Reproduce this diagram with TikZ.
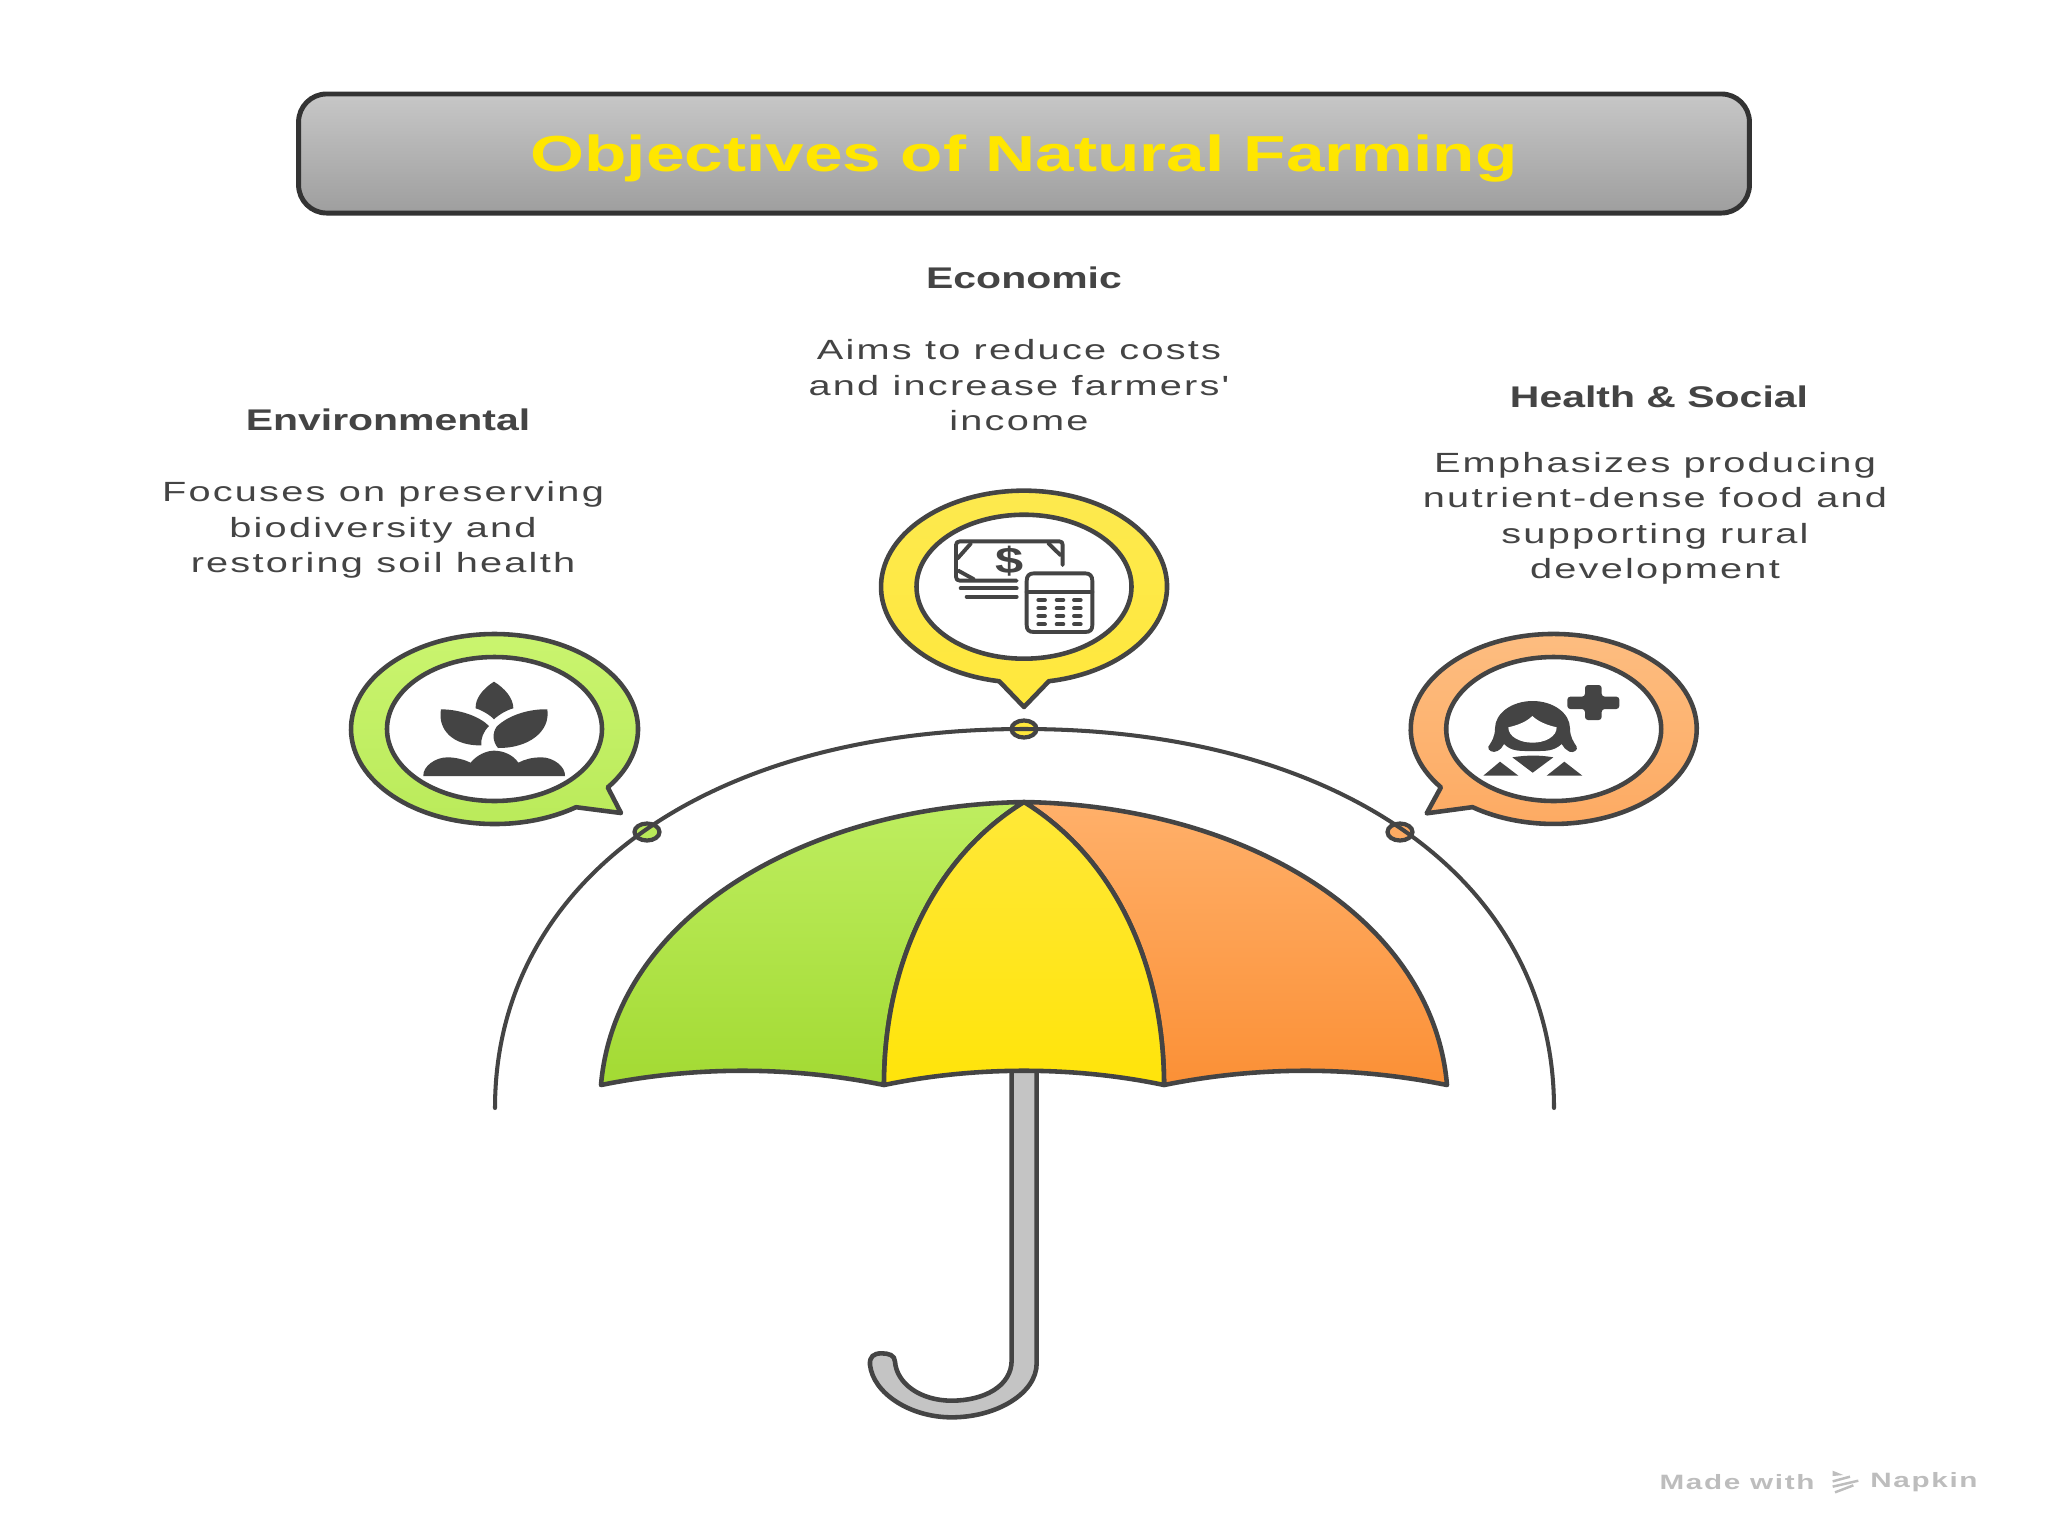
\documentclass[tikz,border=0pt]{standalone}
\usepackage{fontspec}
\usepackage{tikz}
\usetikzlibrary{positioning, shapes.geometric}
\newfontfamily\bodyfont[FakeStretch=1.43,LetterSpace=8]{Liberation Sans}
\newfontfamily\headfont[FakeStretch=1.37]{Liberation Sans}
\definecolor{ink}{HTML}{444444}
\definecolor{stem}{HTML}{C4C4C4}
\definecolor{faint}{HTML}{BDBDBD}
\definecolor{titleyellow}{HTML}{FFE600}
\definecolor{greenA}{HTML}{CBF570}
\definecolor{greenB}{HTML}{B9EA59}
\definecolor{yellowA}{HTML}{FDE94F}
\definecolor{yellowB}{HTML}{FFE83C}
\definecolor{orangeA}{HTML}{FDBE82}
\definecolor{orangeB}{HTML}{FDAA62}
\definecolor{canopyGreenA}{HTML}{BEEE60}
\definecolor{canopyGreenB}{HTML}{A3DA33}
\definecolor{canopyYellowA}{HTML}{FFE838}
\definecolor{canopyYellowB}{HTML}{FFE40A}
\definecolor{canopyOrangeA}{HTML}{FFB06A}
\definecolor{canopyOrangeB}{HTML}{FB9036}

\begin{document}
\begin{tikzpicture}[x=0.01cm, y=-0.01cm, node distance=0.3cm]
      \tikzstyle{banner} = [rectangle, rounded corners=0.28cm, minimum width=14.5cm, minimum height=1.19cm, text centered, text depth=0pt, draw=black!80, line width=1.4pt, top color=black!22, bottom color=black!38, text=titleyellow, font=\headfont\bfseries\fontsize{14.4}{17}\selectfont]
      \tikzstyle{heading} = [text=ink, inner sep=0pt, font=\headfont\bfseries\fontsize{8.5}{10}\selectfont]
      \tikzstyle{bodytext} = [text=ink, inner sep=0pt, align=center, font=\bodyfont\fontsize{7.9}{10.13}\selectfont]
      \tikzstyle{outline} = [draw=ink, line width=1.3pt, line join=round]
      \tikzstyle{joint} = [ellipse, draw=ink, line width=1.2pt, minimum width=0.25cm, minimum height=0.17cm, inner sep=0pt]
      \tikzstyle{icon} = [fill=ink, draw=none]
      \tikzstyle{iconline} = [draw=ink, line width=1.1pt, line cap=round, line join=round]

      \useasboundingbox (0,0) rectangle (2048,1536);

      \node (title) [banner] at (1024,153.5) {Objectives of Natural Farming};

      \node (econhead) [heading] at (1024,278) {Economic};
      \node (econtext) [bodytext, below=0.49cm of econhead, xshift=-0.05cm] {Aims to reduce costs\\and increase farmers'\\income};
      \node (envhead) [heading] at (388,420) {Environmental};
      \node (envtext) [bodytext, below=0.49cm of envhead, xshift=-0.05cm] {Focuses on preserving\\biodiversity and\\restoring soil health};
      \node (sochead) [heading] at (1659,397) {Health \& Social};
      \node (soctext) [bodytext, below=0.425cm of sochead, xshift=-0.04cm] {Emphasizes producing\\nutrient-dense food and\\supporting rural\\development};

      % bubbles
      \draw [outline, top color=greenA, bottom color=greenB] (576,807.2) arc[start angle=55.4, end angle=397.9, x radius=143.5, y radius=95] -- (621,813) -- cycle;
      \draw [outline, fill=white] (494.5,729) ellipse[x radius=107.5, y radius=72];
      \draw [outline, top color=yellowA, bottom color=yellowB] (999.2,681.2) arc[start angle=100, end angle=440, x radius=143, y radius=96] -- (1024,707) -- cycle;
      \draw [outline, fill=white] (1024,586.7) ellipse[x radius=107.5, y radius=72];
      \draw [outline, top color=orangeA, bottom color=orangeB] (1440.9,787.3) arc[start angle=142.1, end angle=484.6, x radius=143, y radius=95] -- (1426.7,813.3) -- cycle;
      \draw [outline, fill=white] (1553.7,729) ellipse[x radius=107.5, y radius=72];

      % plant
      \begin{scope}[shift={(340,620)}, scale=1/3]
        \fill [icon] (462,185) .. controls (430,205) and (405,235) .. (407,265) .. controls (425,270) and (450,285) .. (462,298) .. controls (475,285) and (500,270) .. (520,265) .. controls (520,235) and (495,205) .. (462,185) -- cycle;
        \fill [icon] (303,268) .. controls (360,268) and (420,290) .. (447,318) .. controls (430,335) and (422,355) .. (424,376) .. controls (340,378) and (292,330) .. (303,268) -- cycle;
        \fill [icon] (622,268) .. controls (570,266) and (505,285) .. (470,320) .. controls (456,340) and (458,365) .. (474,384) .. controls (565,385) and (632,335) .. (622,268) -- cycle;
        \fill [icon] (250,468) .. controls (248,440) and (285,412) .. (322,412) .. controls (350,412) and (375,420) .. (392,428) .. controls (410,405) and (440,392) .. (462,392) .. controls (490,392) and (520,405) .. (535,428) .. controls (555,418) and (575,412) .. (605,412) .. controls (640,412) and (677,440) .. (675,468) -- cycle;
      \end{scope}

      % money and calculator
      \begin{scope}[shift={(870,480)}, scale=1/3]
        \draw [iconline] (440,302) -- (270,302) .. controls (262,302) and (258,298) .. (258,290) -- (258,195) .. controls (258,188) and (262,184) .. (270,184) -- (568,184) .. controls (575,184) and (578,188) .. (578,195) -- (578,255);
        \draw [iconline] (262,236) -- (303,190);
        \draw [iconline] (535,190) -- (572,226);
        \draw [iconline] (265,272) -- (312,298);
        \node (dollar) [text=ink, inner sep=0pt, font=\headfont\bfseries\fontsize{10.5}{12}\selectfont] at (418,242) {\$};
        \draw [iconline] (272,325) -- (440,325);
        \draw [iconline] (290,350) -- (440,350);
        \draw [iconline] (492,280) -- (645,280) .. controls (660,280) and (667,288) .. (667,303) -- (667,435) .. controls (667,450) and (660,456) .. (645,456) -- (492,456) .. controls (477,456) and (470,450) .. (470,435) -- (470,303) .. controls (470,288) and (477,280) .. (492,280) -- cycle;
        \draw [iconline] (470,335) -- (667,335);
        \draw [iconline] (505,360) -- (525,360) (560,360) -- (580,360) (612,360) -- (632,360);
        \draw [iconline] (505,385) -- (525,385) (560,385) -- (580,385) (612,385) -- (632,385);
        \draw [iconline] (505,408) -- (525,408) (560,408) -- (580,408) (612,408) -- (632,408);
        \draw [iconline] (505,433) -- (525,433) (560,433) -- (580,433) (612,433) -- (632,433);
      \end{scope}

      % person with plus
      \begin{scope}[shift={(1380,620)}, scale=1/3]
        \fill [icon] (458,243) .. controls (395,243) and (345,280) .. (345,325) .. controls (345,350) and (335,365) .. (325,380) .. controls (322,392) and (340,400) .. (352,393) .. controls (362,388) and (368,380) .. (372,372) .. controls (395,395) and (420,393) .. (458,393) .. controls (495,393) and (520,395) .. (545,372) .. controls (550,382) and (558,390) .. (568,395) .. controls (580,400) and (595,390) .. (590,380) .. controls (580,365) and (570,350) .. (570,325) .. controls (570,280) and (520,243) .. (458,243) -- cycle;
        \fill [white] (385,322) .. controls (415,315) and (440,305) .. (457,288) .. controls (475,305) and (500,315) .. (530,322) .. controls (530,350) and (495,368) .. (458,368) .. controls (420,368) and (385,350) .. (385,322) -- cycle;
        \fill [icon] (397,412) .. controls (440,405) and (480,405) .. (520,412) -- (458,458) -- cycle;
        \fill [icon] (360,425) -- (415,467) -- (310,467) -- cycle;
        \fill [icon] (553,425) -- (607,467) -- (500,467) -- cycle;
        \fill [icon, rounded corners=0.03cm] (615,195) -- (665,195) -- (665,230) -- (718,230) -- (718,267) -- (665,267) -- (665,300) -- (615,300) -- (615,267) -- (562,267) -- (562,230) -- (615,230) -- cycle;
      \end{scope}

      % handle
      \begin{scope}[shift={(840,1040)}, scale=1/3]
        \draw [outline, fill=stem] (515,90) -- (515,960) .. controls (515,1040) and (430,1082) .. (335,1082) .. controls (240,1082) and (170,1030) .. (165,965) .. controls (165,945) and (145,940) .. (125,940) .. controls (100,940) and (88,950) .. (90,975) .. controls (100,1060) and (210,1132) .. (335,1132) .. controls (470,1132) and (590,1060) .. (590,970) -- (590,90) -- cycle;
      \end{scope}

      % canopy
      \draw [outline, top color=canopyGreenA, bottom color=canopyGreenB] (1024,802) .. controls (800,806) and (615,920) .. (601,1085) .. controls (695,1066) and (790,1066) .. (884,1085) .. controls (884,970) and (930,860) .. (1024,802) -- cycle;
      \draw [outline, top color=canopyOrangeA, bottom color=canopyOrangeB] (1024,802) .. controls (1248,806) and (1433,920) .. (1447,1085) .. controls (1353,1066) and (1258,1066) .. (1164,1085) .. controls (1164,970) and (1118,860) .. (1024,802) -- cycle;
      \draw [outline, top color=canopyYellowA, bottom color=canopyYellowB] (1024,802) .. controls (930,860) and (884,970) .. (884,1085) .. controls (975,1066) and (1073,1066) .. (1164,1085) .. controls (1164,970) and (1118,860) .. (1024,802) -- cycle;

      % arc with its three dots
      \node (envdot) [joint, fill=greenB] at (647,832) {};
      \node (econdot) [joint, fill=yellowB] at (1024,729) {};
      \node (socdot) [joint, fill=orangeB] at (1400,832) {};
      \coordinate (arcleft) at (495,1108);
      \coordinate (arcright) at (1554,1108);
      \draw [draw=ink, line width=1.15pt, line cap=round] (arcleft) .. controls (495,881) and (707,729) .. (econdot.center) .. controls (1341,729) and (1554,881) .. (arcright);

      % footer
      \node (madewith) [text=faint, inner sep=0pt, font=\bodyfont\bfseries\fontsize{5.9}{7}\selectfont] at (1737,1482) {Made with};
      \node (napkin) [text=faint, inner sep=0pt, font=\bodyfont\bfseries\fontsize{5.9}{7}\selectfont] at (1924,1482) {Napkin};
      \begin{scope}[shift={(1640,1450)}, scale=1/3]
        \fill [faint] (578,62) -- (610,75) -- (578,78) -- cycle;
        \draw [faint, line width=0.7pt] (578,94) -- (630,80) (578,110) -- (655,92) (585,127) -- (640,106);
      \end{scope}
    \end{tikzpicture}
\end{document}
